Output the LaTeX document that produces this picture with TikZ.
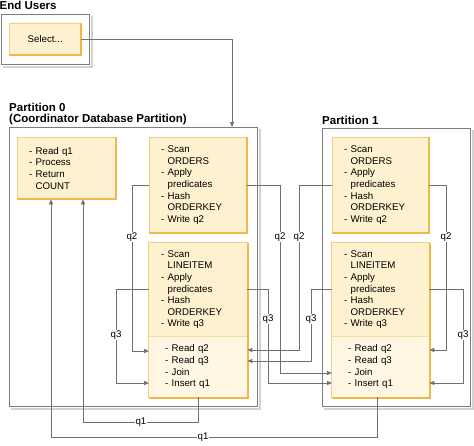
\documentclass[tikz,border=0pt]{standalone}
\usepackage{fontspec}
\setmainfont{Liberation Sans}
\usetikzlibrary{arrows.meta,fit}
\definecolor{boxfill}{HTML}{FEF1CF}
\definecolor{boxfilltwo}{HTML}{FFF7E4}
\definecolor{boxedge}{HTML}{F6CE80}
\definecolor{boxedgetwo}{HTML}{F2B845}
\definecolor{divcol}{HTML}{F5DDA2}
\definecolor{linegray}{HTML}{707070}
\definecolor{partgray}{HTML}{7D7D7D}
\definecolor{shadowgray}{HTML}{D2D2D2}
\newcommand\indt{\hphantom{- }}
\begin{document}
\begin{tikzpicture}[x=1pt,y=-1pt,
  body/.style={font=\fontsize{9.7}{11.6}\selectfont},
  hdr/.style={font=\bfseries\fontsize{11.5}{13}\selectfont, inner sep=0pt, anchor=base west},
  ybox/.style={body, fill=boxfill, inner ysep=0pt, inner xsep=12pt, align=left, anchor=north west},
  part/.style={draw=partgray, line width=0.9pt, inner sep=0pt, anchor=north west, fill=white},
  shad/.style={draw=shadowgray, line width=2pt},
  edgeone/.style={draw=boxedge, line width=1pt},
  edgetwo/.style={draw=boxedgetwo, line width=2pt},
  divl/.style={draw=divcol, line width=0.8pt},
  conn/.style={draw=linegray, line width=1pt, -{Triangle[length=5pt,width=4pt]}},
  lbl/.style={body, fill=white, inner sep=1pt}
]
\useasboundingbox (0,0) rectangle (474,445);

% End users
\node[hdr] (euL) at (-0.5,9.5) {End Users};
\node[part, minimum width=88.5pt, minimum height=50pt] (eu) at (0.5,14) {};
\draw[shad] ([shift={(1.8pt,-2pt)}]eu.north east) -- ([shift={(1.8pt,-1.8pt)}]eu.south east) -- ([shift={(2pt,-1.8pt)}]eu.south west);
\node[body, fill=boxfill, minimum width=72pt, minimum height=32pt, inner sep=0pt, anchor=north west] (sel) at (9,23) {Select...};

% Partitions
\node[hdr] (p0L1) at (9,111.5) {Partition 0};
\node[hdr] (p0L2) at (9,122.5) {(Coordinator Database Partition)};
\node[hdr] (p1L) at (322,124.5) {Partition 1};
\node[part, minimum width=248pt, minimum height=279pt] (p0) at (9,127) {};
\node[part, minimum width=148pt, minimum height=278pt] (p1) at (322,128) {};
\foreach \n in {p0,p1}{
  \draw[shad] ([shift={(1.8pt,-2pt)}]\n.north east) -- ([shift={(1.8pt,-1.8pt)}]\n.south east) -- ([shift={(2pt,-1.8pt)}]\n.south west);
}
\coordinate (p0in) at (232,127);

% Partition 0 boxes
\node[ybox, text width=75pt, minimum height=62pt] (p0q) at (17,137)
  {- Read q1\\- Process\\- Return\\\indt COUNT};
\node[ybox, text width=74pt, minimum height=96pt] (p0o) at (149,137)
  {- Scan\\\indt ORDERS\\- Apply\\\indt predicates\\- Hash\\\indt ORDERKEY\\- Write q2};
\node[ybox, text width=74pt, minimum height=93pt] (p0l) at (149,243)
  {- Scan\\\indt LINEITEM\\- Apply\\\indt predicates\\- Hash\\\indt ORDERKEY\\- Write q3};
\node[ybox, fill=boxfilltwo, inner xsep=16pt, text width=66pt, minimum height=61pt] (p0r) at (149,336)
  {- Read q2\\- Read q3\\- Join\\- Insert q1};
\node[fit=(p0l)(p0r), inner sep=0pt] (p0f) {};

% Partition 1 boxes
\node[ybox, text width=73pt, minimum height=96pt] (p1o) at (332,137)
  {- Scan\\\indt ORDERS\\- Apply\\\indt predicates\\- Hash\\\indt ORDERKEY\\- Write q2};
\node[ybox, text width=73pt, minimum height=93pt] (p1l) at (332,243)
  {- Scan\\\indt LINEITEM\\- Apply\\\indt predicates\\- Hash\\\indt ORDERKEY\\- Write q3};
\node[ybox, fill=boxfilltwo, inner xsep=16pt, text width=65pt, minimum height=61pt] (p1r) at (332,336)
  {- Read q2\\- Read q3\\- Join\\- Insert q1};
\node[fit=(p1l)(p1r), inner sep=0pt] (p1f) {};

% box borders
\foreach \n in {sel,p0q,p0o,p0f,p1o,p1f}{
  \draw[edgeone] (\n.north west) rectangle (\n.south east);
  \draw[edgetwo] (\n.south west) -- (\n.south east) -- (\n.north east);
}
\draw[divl] (p0l.south west) -- (p0l.south east);
\draw[divl] (p1l.south west) -- (p1l.south east);

% connectors
\draw[conn] (sel.east) -| (p0in);
\draw[conn] (p0o.west) -- ++(-17,0) |- (p0r.west |- 0,351);
\draw[conn] (p0l.west) -- ++(-33,0) |- (p0r.west |- 0,383);
\draw[conn] (p0o.east) -- ++(33,0) |- (p1r.west |- 0,373);
\draw[conn] (p1o.west) -- ++(-33,0) |- (p0r.east |- 0,350);
\draw[conn] (p0l.east) -- ++(21,0) |- (p1r.west |- 0,383);
\draw[conn] (p1l.west) -- ++(-21,0) |- (p0r.east |- 0,361);
\draw[conn] (p1o.east) -- ++(17,0) |- (p1r.east |- 0,350);
\draw[conn] (p1l.east) -- ++(34,0) |- (p1r.east |- 0,383);
\draw[conn] (p0r.south) -- ++(0,25) -| (p0q.south -| 83,0);
\draw[conn] ([xshift=-3pt]p1r.south) -- ++(0,40) -| (p0q.south -| 51,0);

% labels
\node[lbl] (la) at (132,237) {q2};
\node[lbl] (lb) at (116,335) {q3};
\node[lbl] (lc) at (280,237) {q2};
\node[lbl] (ld) at (299,237) {q2};
\node[lbl] (le) at (268,319) {q3};
\node[lbl] (lf) at (311,319) {q3};
\node[lbl] (lg) at (446,237) {q2};
\node[lbl] (lh) at (463,335) {q3};
\node[lbl] (li) at (141,422) {q1};
\node[lbl] (lj) at (203,437) {q1};
\end{tikzpicture}
\end{document}
